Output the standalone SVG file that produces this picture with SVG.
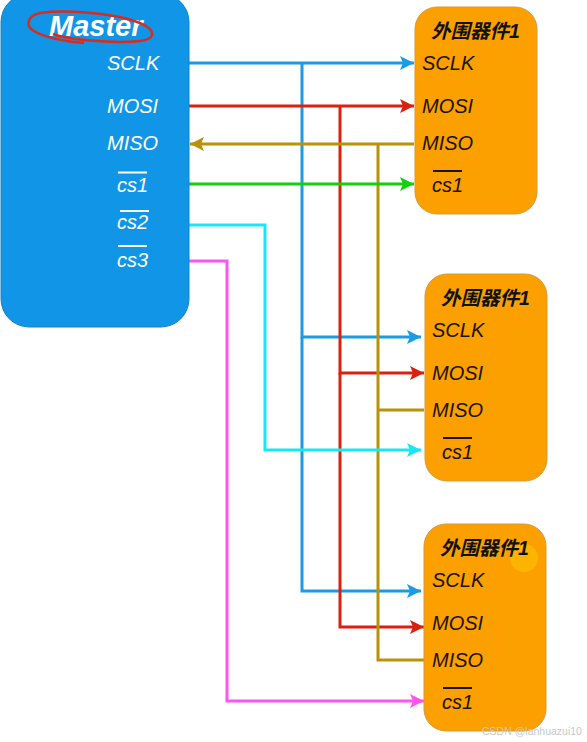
<svg xmlns="http://www.w3.org/2000/svg" width="587" height="742" viewBox="0 0 587 742">
<style>
.l{font:italic 20px "Liberation Sans",sans-serif}
.w{fill:#fff}
.k{fill:#1c1305}
.t{font:italic bold 19.500px "Liberation Sans","Noto Sans CJK SC",sans-serif;fill:#111}
.b{fill:#fca000;stroke:#d49a3a;stroke-width:1}
.c{fill:none;stroke-width:3}
.o{stroke-width:2}
</style>
<defs>
<marker id="ab" markerUnits="userSpaceOnUse" markerWidth="16" markerHeight="16" refX="14" refY="8" orient="auto-start-reverse"><path d="M0 1L14 8L0 15L3 8Z" fill="#1a9be8"/></marker>
<marker id="ar" markerUnits="userSpaceOnUse" markerWidth="16" markerHeight="16" refX="14" refY="8" orient="auto"><path d="M0 1L14 8L0 15L3 8Z" fill="#dc2010"/></marker>
<marker id="ao" markerUnits="userSpaceOnUse" markerWidth="16" markerHeight="16" refX="14" refY="8" orient="auto"><path d="M0 1L14 8L0 15L3 8Z" fill="#b8920c"/></marker>
<marker id="ag" markerUnits="userSpaceOnUse" markerWidth="16" markerHeight="16" refX="14" refY="8" orient="auto"><path d="M0 1L14 8L0 15L3 8Z" fill="#10d010"/></marker>
<marker id="ac" markerUnits="userSpaceOnUse" markerWidth="16" markerHeight="16" refX="14" refY="8" orient="auto"><path d="M0 1L14 8L0 15L3 8Z" fill="#19e6f5"/></marker>
<marker id="am" markerUnits="userSpaceOnUse" markerWidth="16" markerHeight="16" refX="14" refY="8" orient="auto"><path d="M0 1L14 8L0 15L3 8Z" fill="#ff55ee"/></marker>
</defs>
<g id="connectors">
<path class="c" stroke="#1a9be8" marker-end="url(#ab)" d="M189 63H414"/>
<path class="c" stroke="#1a9be8" marker-end="url(#ab)" d="M302 63V337H421"/>
<path class="c" stroke="#1a9be8" marker-end="url(#ab)" d="M302 337V591H421"/>
<path class="c" stroke="#dc2010" marker-end="url(#ar)" d="M189 106H414"/>
<path class="c" stroke="#dc2010" marker-end="url(#ar)" d="M340 106V373H424"/>
<path class="c" stroke="#dc2010" marker-end="url(#ar)" d="M340 373V627H424"/>
<path class="c" stroke="#b8920c" marker-end="url(#ao)" d="M414 144H190"/>
<path class="c" stroke="#b8920c" d="M378 144V660H424M378 410H424"/>
<path class="c" stroke="#10d010" marker-end="url(#ag)" d="M189 184H414"/>
<path class="c" stroke="#19e6f5" marker-end="url(#ac)" d="M189 225H265V450H421"/>
<path class="c" stroke="#ff55ee" marker-end="url(#am)" d="M189 261H227V701H424"/>
</g>
<g id="master">
<rect x="1" y="-6" width="188" height="333" rx="28" fill="#1195e6" stroke="#1284c8"/>
<text x="49" y="36" style="font:italic bold 29px 'Liberation Sans',sans-serif" class="w">Master</text>
<path d="M53 34C66 39 110 44 140 41C155 39 155 32 146 26C125 14 70 9 40 13C27 16 25 26 34 31C44 37 65 42 84 43" fill="none" stroke="#dd2a1c" stroke-width="2.500"/>
<text x="107" y="70" class="l w">SCLK</text>
<text x="107" y="113" class="l w">MOSI</text>
<text x="107" y="150" class="l w">MISO</text>
<path d="M118 172.500H147M120 211H149M118 246H147" stroke="#fff" stroke-width="2"/>
<text x="117" y="192" class="l w">cs1</text>
<text x="117" y="229" class="l w">cs2</text>
<text x="117" y="267" class="l w">cs3</text>
</g>
<g id="device1">
<rect class="b" x="415" y="7" width="122" height="207" rx="22"/>
<text x="431" y="38" class="t">外围器件1</text>
<text x="422" y="70" class="l k">SCLK</text>
<text x="422" y="113" class="l k">MOSI</text>
<text x="422" y="150" class="l k">MISO</text>
<path d="M433 171H462" class="o" stroke="#1c1305"/>
<text x="432" y="192" class="l k">cs1</text>
</g>
<g id="device2">
<rect class="b" x="425" y="274" width="122" height="207" rx="22"/>
<text x="441" y="305" class="t">外围器件1</text>
<text x="432" y="337" class="l k">SCLK</text>
<text x="432" y="380" class="l k">MOSI</text>
<text x="432" y="417" class="l k">MISO</text>
<path d="M443 438H472" class="o" stroke="#1c1305"/>
<text x="442" y="459" class="l k">cs1</text>
</g>
<g id="device3">
<rect class="b" x="424" y="524" width="122" height="207" rx="22"/>
<circle cx="524" cy="558" r="14" fill="#fdb400"/>
<text x="440" y="555" class="t">外围器件1</text>
<text x="432" y="587" class="l k">SCLK</text>
<text x="432" y="630" class="l k">MOSI</text>
<text x="432" y="667" class="l k">MISO</text>
<path d="M443 688H472" class="o" stroke="#1c1305"/>
<text x="442" y="709" class="l k">cs1</text>
</g>
<text x="482" y="735" style="font:10.500px 'Liberation Sans',sans-serif" fill="#c9c9c9">CSDN @lanhuazui10</text>
</svg>
